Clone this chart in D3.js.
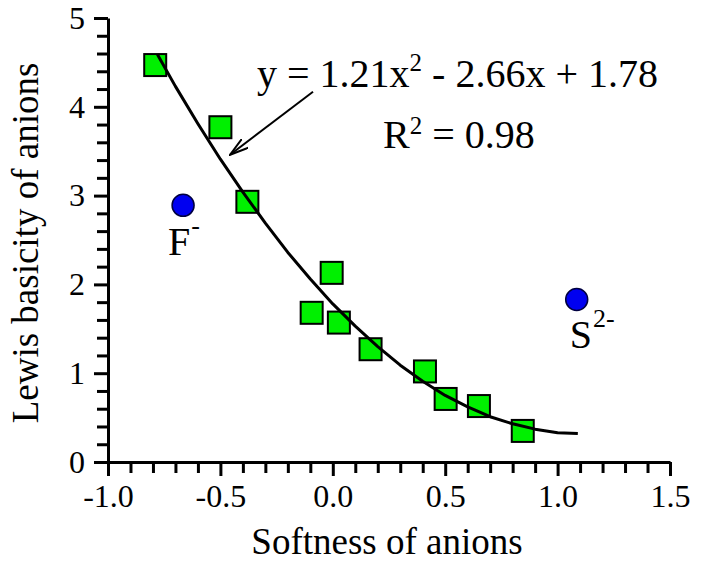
<!DOCTYPE html>
<html>
<head>
<meta charset="utf-8">
<script src="https://cdn.jsdelivr.net/npm/d3@7"></script>
<style>
  body { margin: 0; background: #fff; }
  text { font-family: "Liberation Serif", "Times New Roman", serif; fill: #000; }
</style>
</head>
<body>
<div id="chart"></div>
<script>
// anions fitted by the parabola (squares)
const softness = [-0.79, -0.50, -0.38, -0.005, -0.094, 0.027, 0.168, 0.41, 0.502, 0.65, 0.845];
const basicity = [4.47, 3.77, 2.93, 2.13, 1.68, 1.57, 1.27, 1.02, 0.71, 0.63, 0.35];

// outliers (circles)
const outlierNames = ["F", "S"];
const outlierCharges = ["-", "2-"];
const outlierSoftness = [-0.666, 1.085];
const outlierBasicity = [2.89, 1.83];

// fit curve
const fitX = [-0.78, -0.7, -0.6, -0.5, -0.4, -0.3, -0.2, -0.1, 0.0, 0.1, 0.2, 0.3, 0.4, 0.5, 0.6, 0.7, 0.8, 0.9, 1.0, 1.09];
const fitY = [4.59, 4.23, 3.81, 3.41, 3.04, 2.69, 2.36, 2.06, 1.78, 1.53, 1.30, 1.09, 0.91, 0.75, 0.62, 0.51, 0.43, 0.37, 0.33, 0.32];

const xMajor = [-1.0, -0.5, 0.0, 0.5, 1.0, 1.5];
const yMajor = [0, 1, 2, 3, 4, 5];

const WIDTH = 723;
const HEIGHT = 575;
const TITLE_FONT = 37;
const NOTE_FONT = 40;

const svg = d3.select("#chart").append("svg")
              .attr("width", WIDTH)
              .attr("height", HEIGHT);

const x = d3.scaleLinear().domain([-1, 1.5]).range([108, 670]);
const y = d3.scaleLinear().domain([0, 5]).range([462, 18]);

const xMinor = d3.range(-1.0, 1.5001, 0.1).filter(v => !xMajor.some(m => Math.abs(m - v) < 1e-6));
const yMinor = d3.range(0, 5.0001, 0.2).filter(v => !yMajor.some(m => Math.abs(m - v) < 1e-6));

// minor ticks (no labels)
svg.append("g")
   .attr("class", "axis x-minor")
   .attr("transform", `translate(0, ${y(0)})`)
   .call(d3.axisBottom(x).tickValues(xMinor).tickSize(11).tickFormat(""));

svg.append("g")
   .attr("class", "axis y-minor")
   .attr("transform", `translate(${x(-1)}, 0)`)
   .call(d3.axisLeft(y).tickValues(yMinor).tickSize(11).tickFormat(""));

// major ticks with labels
const xAxis = svg.append("g")
                 .attr("class", "axis x-axis")
                 .attr("transform", `translate(0, ${y(0)})`)
                 .call(d3.axisBottom(x).tickValues(xMajor).tickSize(14).tickSizeOuter(0).tickPadding(8).tickFormat(d3.format(".1f")));

const yAxis = svg.append("g")
                 .attr("class", "axis y-axis")
                 .attr("transform", `translate(${x(-1)}, 0)`)
                 .call(d3.axisLeft(y).tickValues(yMajor).tickSize(14).tickSizeOuter(0).tickPadding(9).tickFormat(d3.format("d")));

svg.selectAll(".axis").attr("font-family", null).attr("font-size", null);
svg.selectAll(".axis path").attr("stroke", "#000").attr("stroke-width", 3);
svg.selectAll(".axis line").attr("stroke", "#000").attr("stroke-width", 3);
svg.selectAll(".x-minor path, .y-minor path").remove();
svg.selectAll(".axis text")
   .style("font-family", "'Liberation Serif', serif")
   .style("font-size", "32px")
   .attr("fill", "#000");

// x-axis tick labels use a hyphen-minus like the original
xAxis.selectAll("text").text(d => d3.format(".1f")(d).replace("\u2212", "-"));

// axis titles
svg.append("text")
   .attr("x", (x(-1) + x(1.5)) / 2 - 2)
   .attr("y", 554)
   .attr("text-anchor", "middle")
   .attr("font-size", TITLE_FONT)
   .text("Softness of anions");

svg.append("text")
   .attr("transform", "rotate(-90)")
   .attr("x", -243)
   .attr("y", 38)
   .attr("text-anchor", "middle")
   .attr("font-size", TITLE_FONT)
   .text("Lewis basicity of anions");

// squares
const SQ = 22;
svg.selectAll(".pt")
   .data(softness)
   .enter()
   .append("rect")
   .attr("class", "pt")
   .attr("x", (d, i) => x(d) - SQ / 2)
   .attr("y", (d, i) => y(basicity[i]) - SQ / 2)
   .attr("width", SQ)
   .attr("height", SQ)
   .attr("fill", "#00f000")
   .attr("stroke", "#000")
   .attr("stroke-width", 2);

// fit curve (drawn over the squares)
const line = d3.line()
               .x((d, i) => x(fitX[i]))
               .y(d => y(d));

svg.append("path")
   .datum(fitY)
   .attr("fill", "none")
   .attr("stroke", "#000")
   .attr("stroke-width", 3)
   .attr("stroke-linejoin", "round")
   .attr("d", line);

// outliers
svg.selectAll(".outlier")
   .data(outlierSoftness)
   .enter()
   .append("circle")
   .attr("class", "outlier")
   .attr("cx", d => x(d))
   .attr("cy", (d, i) => y(outlierBasicity[i]))
   .attr("r", 11)
   .attr("fill", "#0000f0")
   .attr("stroke", "#000040")
   .attr("stroke-width", 1.5);

const labelOffsets = [[-15, 50], [-7, 49]];
outlierNames.forEach((name, i) => {
    const t = svg.append("text")
                 .attr("x", x(outlierSoftness[i]) + labelOffsets[i][0])
                 .attr("y", y(outlierBasicity[i]) + labelOffsets[i][1])
                 .attr("font-size", 40);
    t.append("tspan").text(name);
    t.append("tspan")
     .attr("dy", -21)
     .attr("dx", 1)
     .attr("font-size", 26)
     .text(outlierCharges[i]);
});

// arrow pointing to the curve
svg.append("defs").append("marker")
   .attr("id", "arrowHead")
   .attr("viewBox", "0 0 20 12")
   .attr("refX", 19)
   .attr("refY", 6)
   .attr("markerWidth", 20)
   .attr("markerHeight", 12)
   .attr("markerUnits", "userSpaceOnUse")
   .attr("orient", "auto")
   .append("path")
   .attr("d", "M0,0.5 L19,6 L0,11.5")
   .attr("fill", "none")
   .attr("stroke", "#000")
   .attr("stroke-width", 2);

svg.append("line")
   .attr("x1", x(-0.088))
   .attr("y1", y(4.17))
   .attr("x2", x(-0.457))
   .attr("y2", y(3.46))
   .attr("stroke", "#000")
   .attr("stroke-width", 2)
   .attr("marker-end", "url(#arrowHead)");

// equation and R^2
const eq = svg.append("text")
              .attr("x", 257)
              .attr("y", 87)
              .attr("font-size", NOTE_FONT);
eq.append("tspan").text("y = 1.21x");
eq.append("tspan").attr("dy", -16).attr("font-size", 25).text("2");
eq.append("tspan").attr("dy", 16).text(" - 2.66x + 1.78");

const r2 = svg.append("text")
              .attr("x", 383)
              .attr("y", 148)
              .attr("font-size", NOTE_FONT);
r2.append("tspan").text("R");
r2.append("tspan").attr("dy", -14).attr("font-size", 25).text("2");
r2.append("tspan").attr("dy", 14).text(" = 0.98");
</script>
</body>
</html>
